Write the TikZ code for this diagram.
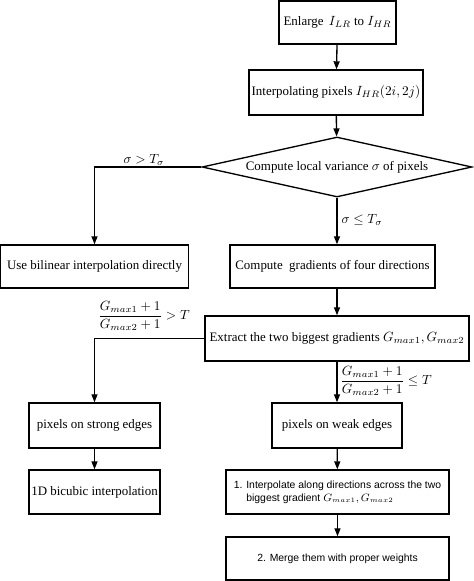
\documentclass[tikz,border=0pt]{standalone}
\usepackage{fontspec}
\setmainfont{Liberation Serif}
\newfontfamily\arialfont{Liberation Sans}
\usepackage{amsmath}
\usetikzlibrary{shapes.geometric,arrows.meta}

\begin{document}
\begin{tikzpicture}[x=0.75pt,y=-0.75pt,
  box/.style={draw,line width=1pt,inner sep=1pt,font=\fontsize{9.7}{11}\selectfont},
  choice/.style={draw,diamond,aspect=4.5,line width=1pt,inner sep=1pt,font=\fontsize{9.7}{11}\selectfont},
  cond/.style={inner sep=0pt,font=\fontsize{9.7}{11}\selectfont},
  flow/.style={-{Triangle[length=6pt,width=4.5pt]},line width=1pt}]
\useasboundingbox (0,0) rectangle (474,581);

\node[box,minimum width=87.8pt,minimum height=32.3pt] (enlarge) at (337.5,22.5) {Enlarge \,$I_{LR}$ to $I_{HR}$};
\node[box,minimum width=130.5pt,minimum height=33.8pt] (interp) at (336,92.5) {Interpolating pixels $I_{HR}(2i,2j)$};
\node[choice,minimum width=202.5pt,minimum height=45pt] (var) at (337,167) {Compute local variance $\sigma$ of pixels};

\node[box,minimum width=141pt,minimum height=32.3pt] (bilinear) at (94.5,266.5) {Use bilinear interpolation directly};
\node[box,minimum width=153.8pt,minimum height=32.3pt] (grad) at (332.5,266.5) {Compute\ \ gradients of four directions};
\node[box,minimum width=198pt,minimum height=33.8pt] (extract) at (337,338.5) {Extract the two biggest gradients $G_{max1},G_{max2}$};

\node[box,minimum width=98.3pt,minimum height=33.8pt] (strong) at (94.5,425.5) {pixels on strong edges};
\node[box,minimum width=97.5pt,minimum height=33.8pt] (weak) at (337,425.5) {pixels on weak edges};
\node[box,minimum width=98.3pt,minimum height=33pt] (bicubic) at (94.5,492) {1D bicubic interpolation};
\node[box,minimum width=167.3pt,minimum height=33pt,align=left,font=\arialfont\fontsize{7.8}{9.5}\selectfont] (across) at (337.5,492)
  {1. Interpolate along directions across the two\\\phantom{1. }biggest gradient $G_{max1},G_{max2}$};
\node[box,minimum width=167.3pt,minimum height=32.3pt,font=\arialfont\fontsize{7.8}{9.5}\selectfont] (merge) at (337.5,558.5) {2. Merge them with proper weights};

\node[cond] (big) at (144,160) {$\sigma>T_\sigma$};
\node[cond] (small) at (362,220) {$\sigma\le T_\sigma$};
\node[cond] (ratiobig) at (144,316) {$\dfrac{G_{max1}+1}{G_{max2}+1}>T$};
\node[cond] (ratiosmall) at (386,381) {$\dfrac{G_{max1}+1}{G_{max2}+1}\le T$};

\draw[flow] (enlarge) -- (interp);
\draw[flow] (interp) -- (var);
\draw[flow] (var.west) -| (bilinear.north);
\draw[flow] (var.south) -- (var.south |- grad.north);
\draw[flow] (extract.north |- grad.south) -- (extract.north);
\draw[flow] (extract.west) -| (strong.north);
\draw[flow] (extract) -- (weak);
\draw[flow] (strong) -- (bicubic);
\draw[flow] (weak) -- (across);
\draw[flow] (across) -- (merge);
\end{tikzpicture}
\end{document}
